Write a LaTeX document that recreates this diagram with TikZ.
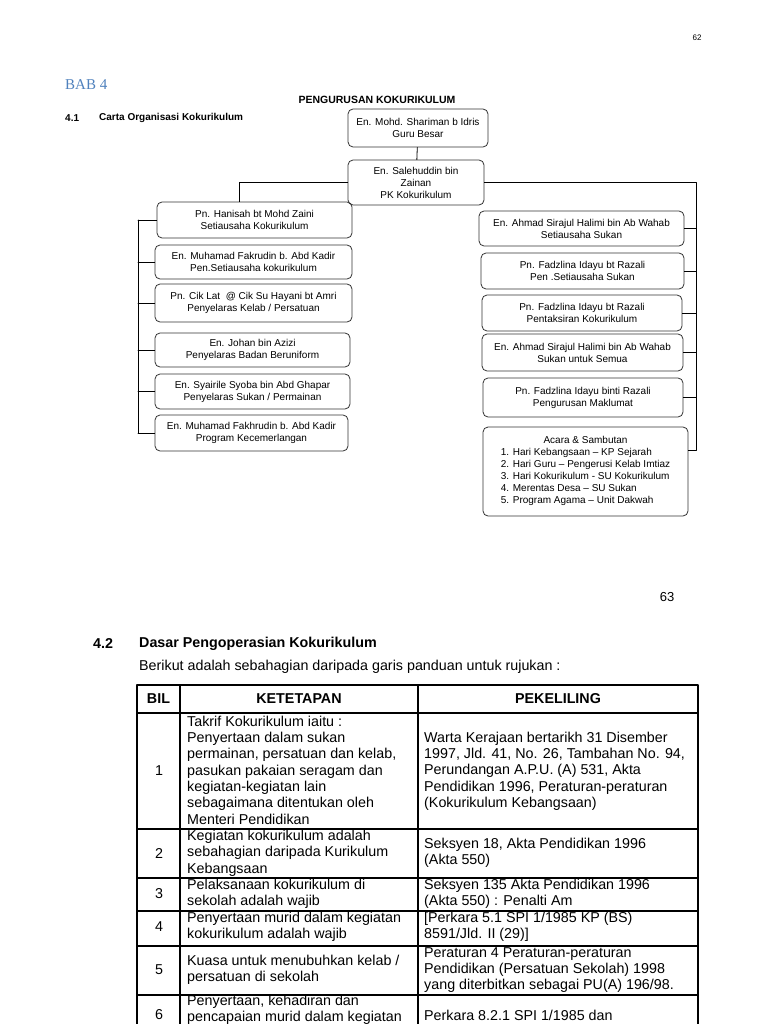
\documentclass[tikz,border=0pt]{standalone}
\usepackage{fontspec}
\setmainfont{Liberation Sans}
\newfontfamily\babfont{Liberation Serif}
\usetikzlibrary{positioning}
\definecolor{babblue}{HTML}{4F81BD}

\begin{document}
\begin{tikzpicture}[
	x=1pt,y=-1pt,
	line cap=round,
	line join=round,
	chartbox/.style={draw=black!80,line width=0.8pt,rounded corners=5pt,align=center,inner sep=0pt,font=\fontsize{10}{12}\selectfont},
	link/.style={line width=0.8pt},
	tab/.style={line width=1.4pt},
	cell/.style={anchor=west,align=left,inner sep=0pt,font=\fontsize{14.3}{16.3}\selectfont},
	num/.style={inner sep=0pt,font=\fontsize{14.3}{16.3}\selectfont},
	head/.style={inner sep=0pt,font=\bfseries\fontsize{14.3}{16.3}\selectfont}
	]
	\useasboundingbox (0,0) rectangle (768,1024);
	\clip (0,0) rectangle (768,1024);
	\fill[white] (0,0) rectangle (768,1024);

	% page 62: chart
	\node[inner sep=0pt,font=\fontsize{8}{9}\selectfont] (pageA) at (697,38) {62};
	\node[anchor=west,inner sep=0pt,text=babblue,font=\babfont\fontsize{15}{18}\selectfont] (bab) at (65,85) {BAB 4};
	\node[inner sep=0pt,font=\bfseries\fontsize{10.5}{12}\selectfont] (title) at (377,100) {PENGURUSAN KOKURIKULUM};
	\node[anchor=west,inner sep=0pt,font=\bfseries\fontsize{10}{12}\selectfont] (secA) at (65,118) {4.1};
	\node[anchor=west,inner sep=0pt,font=\bfseries\fontsize{10}{12}\selectfont] (secAname) at (99,118) {Carta Organisasi Kokurikulum};

	\node[chartbox,minimum width=140pt,minimum height=38pt] (guru) at (418,128) {En. Mohd. Shariman b Idris\\Guru Besar};
	\node[chartbox,minimum width=136pt,minimum height=45pt] (pk) at (416,182.5) {En. Salehuddin bin\\Zainan\\PK Kokurikulum};

	% left side
	\node[chartbox,minimum width=195pt,minimum height=36pt] (sua) at (254.5,220) {Pn. Hanisah bt Mohd Zaini\\Setiausaha Kokurikulum};
	\node[chartbox,minimum width=197pt,minimum height=34pt] (psua) at (253.5,262) {En. Muhamad Fakrudin b. Abd Kadir\\Pen.Setiausaha kokurikulum};
	\node[chartbox,minimum width=197pt,minimum height=38pt] (kelab) at (253.5,303) {Pn. Cik Lat\ \ @ Cik Su Hayani bt Amri\\Penyelaras Kelab / Persatuan};
	\node[chartbox,minimum width=195pt,minimum height=34pt] (uniform) at (252.5,350) {En. Johan bin Azizi\\Penyelaras Badan Beruniform};
	\node[chartbox,minimum width=195pt,minimum height=35pt] (sukan) at (252.5,391.5) {En. Syairile Syoba bin Abd Ghapar\\Penyelaras Sukan / Permainan};
	\node[chartbox,minimum width=193pt,minimum height=36pt] (cemerlang) at (251.5,433) {En. Muhamad Fakhrudin b. Abd Kadir\\Program Kecemerlangan};

	% right side
	\node[chartbox,minimum width=205pt,minimum height=35pt] (ssukan) at (581.5,228.5) {En. Ahmad Sirajul Halimi bin Ab Wahab\\Setiausaha Sukan};
	\node[chartbox,minimum width=203pt,minimum height=36pt] (pssukan) at (582.5,271) {Pn. Fadzlina Idayu bt Razali\\Pen .Setiausaha Sukan};
	\node[chartbox,minimum width=200pt,minimum height=36pt] (taksir) at (582,313) {Pn. Fadzlina Idayu bt Razali\\Pentaksiran Kokurikulum};
	\node[chartbox,minimum width=201pt,minimum height=37pt] (semua) at (582.5,352.5) {En. Ahmad Sirajul Halimi bin Ab Wahab\\Sukan untuk Semua};
	\node[chartbox,minimum width=200pt,minimum height=39pt] (maklumat) at (583,397.5) {Pn. Fadzlina Idayu binti Razali\\Pengurusan Maklumat};
	\node[chartbox,minimum width=205pt,minimum height=89pt] (acara) at (585.5,471.5) {\begin{tabular}{@{}l@{}}
		\multicolumn{1}{@{}c@{}}{Acara \& Sambutan}\\
		1. Hari Kebangsaan -- KP Sejarah\\
		2. Hari Guru -- Pengerusi Kelab Imtiaz\\
		3. Hari Kokurikulum - SU Kokurikulum\\
		4. Merentas Desa -- SU Sukan\\
		5. Program Agama -- Unit Dakwah
	\end{tabular}};

	% connectors
	\coordinate (lsplit) at (239,182.5);
	\coordinate (lbus) at (138,0);
	\coordinate (rbus) at (696,450);
	\draw[link] (guru) -- (pk);
	\draw[link] (pk.west) -- (lsplit) -- (lsplit |- sua.north);
	\draw[link] (pk.east) -| (rbus) -- (acara.east |- rbus);
	\draw[link] (lbus |- sua.west) -- (lbus |- cemerlang.west);
	\foreach \n in {sua,psua,kelab,uniform,sukan,cemerlang}
		\draw[link] (lbus |- \n.west) -- (\n.west);
	\foreach \n in {ssukan,pssukan,taksir,semua,maklumat}
		\draw[link] (\n.east) -- (rbus |- \n.east);

	% page 63: table
	\node[inner sep=0pt,font=\fontsize{13}{15}\selectfont] (pageB) at (667,597) {63};
	\node[anchor=west,head] (secB) at (93,644) {4.2};
	\node[anchor=west,head] (secBname) at (139,644) {Dasar Pengoperasian Kokurikulum};
	\node[anchor=west,num] (intro) at (139,667) {Berikut adalah sebahagian daripada garis panduan untuk rujukan :};

	\draw[tab] (137,1030) -- (137,685) -- (698,685) -- (698,1030);
	\foreach \x in {180,418}
		\draw[tab] (\x,685) -- (\x,1030);
	\foreach \y in {713,829,878,911,946,995}
		\draw[tab] (137,\y) -- (698,\y);

	\node[head] (hbil) at (158.5,699) {BIL};
	\node[head] (hket) at (299,699) {KETETAPAN};
	\node[head] (hpek) at (558,699) {PEKELILING};

	\node[num] (n1) at (159,771) {1};
	\node[num] (n2) at (159,853) {2};
	\node[num] (n3) at (159,894) {3};
	\node[num] (n4) at (159,927) {4};
	\node[num] (n5) at (159,970) {5};
	\node[num] (n6) at (159,1015) {6};

	\node[cell] (k1) at (187,770) {Takrif Kokurikulum iaitu :\\Penyertaan dalam sukan\\permainan, persatuan dan kelab,\\pasukan pakaian seragam dan\\kegiatan-kegiatan lain\\sebagaimana ditentukan oleh\\Menteri Pendidikan};
	\node[cell] (k2) at (187,853) {Kegiatan kokurikulum adalah\\sebahagian daripada Kurikulum\\Kebangsaan};
	\node[cell] (k3) at (187,894) {Pelaksanaan kokurikulum di\\sekolah adalah wajib};
	\node[cell] (k4) at (187,927) {Penyertaan murid dalam kegiatan\\kokurikulum adalah wajib};
	\node[cell] (k5) at (187,970) {Kuasa untuk menubuhkan kelab /\\persatuan di sekolah};
	\node[cell] (k6) at (187,1009.5) {Penyertaan, kehadiran dan\\pencapaian murid dalam kegiatan};

	\node[cell] (p1) at (424,771) {Warta Kerajaan bertarikh 31 Disember\\1997, Jld. 41, No. 26, Tambahan No. 94,\\Perundangan A.P.U. (A) 531, Akta\\Pendidikan 1996, Peraturan-peraturan\\(Kokurikulum Kebangsaan)};
	\node[cell] (p2) at (424,853) {Seksyen 18, Akta Pendidikan 1996\\(Akta 550)};
	\node[cell] (p3) at (424,894) {Seksyen 135 Akta Pendidikan 1996\\(Akta 550) : Penalti Am};
	\node[cell] (p4) at (424,927) {[Perkara 5.1 SPI 1/1985 KP (BS)\\8591/Jld. II (29)]};
	\node[cell] (p5) at (424,970) {Peraturan 4 Peraturan-peraturan\\Pendidikan (Persatuan Sekolah) 1998\\yang diterbitkan sebagai PU(A) 196/98.};
	\node[cell] (p6) at (424,1015) {Perkara 8.2.1 SPI 1/1985 dan};
\end{tikzpicture}
\end{document}
